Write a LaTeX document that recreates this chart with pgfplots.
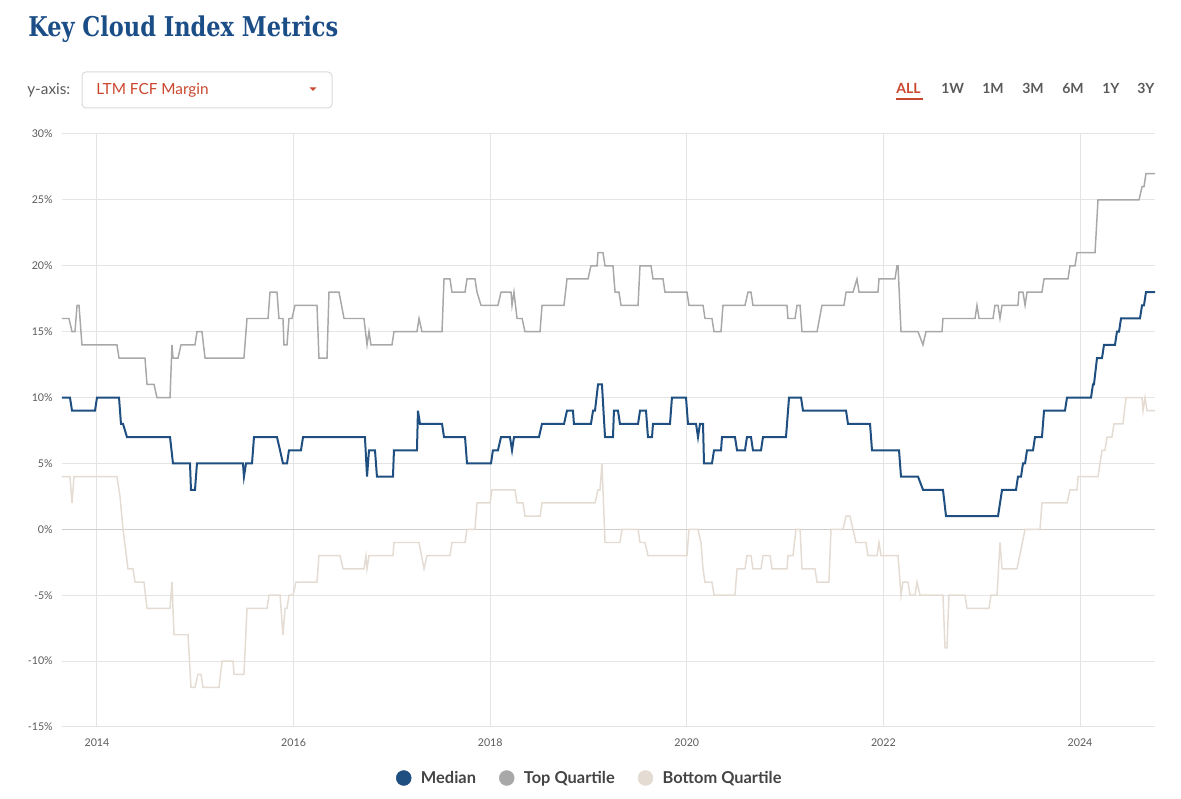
\documentclass[border=0pt]{standalone}
\usepackage{fontspec}
\setmainfont{Lato}
\newfontfamily\titlefont{DejaVu Serif}
\usepackage{graphicx}
\usepackage{pgfplots}
\pgfplotsset{compat=1.18}

\definecolor{median}{HTML}{1F4E80}
\definecolor{topq}{HTML}{A8A8A8}
\definecolor{botq}{HTML}{E4DBD2}
\definecolor{gridc}{HTML}{E4E4E4}
\definecolor{zeroc}{HTML}{D2CDC8}
\definecolor{ticktext}{HTML}{5A5A5A}
\definecolor{legtext}{HTML}{444444}
\definecolor{accent}{HTML}{C9472C}
\definecolor{titleblue}{HTML}{1B4D86}
\definecolor{boxc}{HTML}{DADADA}

\begin{document}
\begin{tikzpicture}[x=0.75pt,y=0.75pt]
\useasboundingbox (0,0) rectangle (1181,799);

% header
\node[anchor=base west, inner sep=0pt, text=titleblue]
  at (28,762) {\resizebox{232.5pt}{15.5pt}{\titlefont\bfseries Key Cloud Index Metrics}};
\node[anchor=base west, inner sep=0pt, text=ticktext, font=\fontsize{11.5}{13}\selectfont]
  at (27,704) {y-axis:};
\draw[boxc, line width=0.75pt, rounded corners=3pt] (82,727) rectangle (332,691);
\node[anchor=base west, inner sep=0pt, text=accent, font=\fontsize{11.5}{13}\selectfont]
  at (96,704) {LTM FCF Margin};
\fill[accent] (309.5,711.5) -- (316.5,711.5) -- (313,708) -- cycle;

% range buttons
\begin{scope}[every node/.style={anchor=base west, inner sep=0pt, font=\bfseries\fontsize{10.5}{12}\selectfont, text=ticktext}]
\node[text=accent] at (896,705) {ALL};
\node at (941,705) {1W};
\node at (982,705) {1M};
\node at (1022,705) {3M};
\node at (1062,705) {6M};
\node at (1102,705) {1Y};
\node at (1137,705) {3Y};
\end{scope}
\draw[accent, line width=1.5pt] (896,700) -- (923,700);

\begin{axis}[
  at={(46.5pt,54pt)}, anchor=south west,
  width=819.75pt, height=444.75pt, scale only axis,
  xmin=2013.644, xmax=2024.763, ymin=-15, ymax=30,
  xtick={2014,2016,2018,2020,2022,2024},
  xticklabels={2014,2016,2018,2020,2022,2024},
  ytick={-15,-10,-5,0,5,10,15,20,25,30},
  yticklabels={-15\%,-10\%,-5\%,0\%,5\%,10\%,15\%,20\%,25\%,30\%},
  extra y ticks={0}, extra y tick labels={},
  extra y tick style={grid style={zeroc, line width=0.75pt}},
  xmajorgrids, ymajorgrids,
  grid style={gridc, line width=0.75pt},
  axis line style={draw=none},
  major tick length=0pt,
  tick label style={font=\fontsize{8}{9}\selectfont, text=ticktext, inner sep=0pt},
  yticklabel style={xshift=-6.75pt},
  xticklabel style={yshift=-8.5pt},
  legend columns=-1,
  legend image code/.code={\fill[#1] (0pt,0pt) circle (5.6pt);},
  legend style={draw=none, fill=none, inner sep=0pt, outer sep=0pt,
    column sep=0pt, nodes={inner sep=0pt},
    font=\bfseries\fontsize{12.3}{14}\selectfont, text=legtext,
    /tikz/every odd column/.append style={column sep=7.1pt},
    /tikz/every even column/.append style={column sep=17.25pt},
    at={(rel axis cs:0.3056,-0.086)}, anchor=west},
]
\addlegendimage{median}
\addlegendimage{topq}
\addlegendimage{botq}
\addplot[botq, line width=1.1pt, forget plot] coordinates {
(2013.644,4) (2013.725,4) (2013.746,2) (2013.766,4) (2014.203,4) (2014.234,2.5) (2014.265,0) (2014.315,-3) (2014.366,-3) (2014.387,-4) (2014.478,-4) (2014.509,-6) (2014.743,-6) (2014.763,-4) (2014.783,-8) (2014.926,-8) (2014.956,-12) (2014.997,-12) (2015.027,-11) (2015.058,-11) (2015.078,-12) (2015.241,-12) (2015.272,-10) (2015.384,-10) (2015.394,-11) (2015.495,-11) (2015.526,-6) (2015.729,-6) (2015.750,-5) (2015.862,-5) (2015.892,-8) (2015.913,-6) (2015.933,-6) (2015.953,-5) (2015.994,-5) (2016.024,-4) (2016.238,-4) (2016.258,-2) (2016.472,-2) (2016.503,-3) (2016.716,-3) (2016.736,-2) (2016.747,-3) (2016.767,-2) (2017.011,-2) (2017.021,-1) (2017.276,-1) (2017.327,-3) (2017.357,-2) (2017.591,-2) (2017.611,-1) (2017.744,-1) (2017.764,0) (2017.845,0) (2017.866,2) (2017.998,2) (2018.018,3) (2018.252,3) (2018.273,2) (2018.334,2) (2018.354,1) (2018.507,1) (2018.527,2) (2019.066,2) (2019.097,3) (2019.117,3) (2019.137,5) (2019.168,-1) (2019.320,-1) (2019.341,0) (2019.504,0) (2019.524,-1) (2019.575,-1) (2019.605,-2) (2020.002,-2) (2020.022,0) (2020.114,0) (2020.144,-1) (2020.165,-3) (2020.185,-4) (2020.256,-4) (2020.277,-5) (2020.490,-5) (2020.511,-3) (2020.592,-3) (2020.612,-2) (2020.653,-2) (2020.673,-3) (2020.755,-3) (2020.775,-2) (2020.846,-2) (2020.867,-3) (2021.019,-3) (2021.029,-2) (2021.080,-2) (2021.111,0) (2021.152,0) (2021.172,-3) (2021.304,-3) (2021.325,-4) (2021.446,-4) (2021.467,0) (2021.589,0) (2021.620,1) (2021.660,1) (2021.721,-1) (2021.823,-1) (2021.843,-2) (2021.935,-2) (2021.955,-1) (2021.976,-2) (2022.149,-2) (2022.179,-5) (2022.199,-4) (2022.250,-4) (2022.271,-5) (2022.321,-5) (2022.342,-4) (2022.372,-5) (2022.606,-5) (2022.627,-9) (2022.647,-9) (2022.667,-5) (2022.830,-5) (2022.851,-6) (2023.074,-6) (2023.095,-5) (2023.156,-5) (2023.186,-1) (2023.207,-3) (2023.359,-3) (2023.441,0) (2023.593,0) (2023.613,2) (2023.868,2) (2023.898,3) (2023.970,3) (2023.980,4) (2024.183,4) (2024.224,6) (2024.254,6) (2024.275,7) (2024.325,7) (2024.346,8) (2024.437,8) (2024.468,10) (2024.631,10) (2024.641,9) (2024.661,10) (2024.682,9) (2024.763,9)
};
\addplot[topq, line width=1.1pt, forget plot] coordinates {
(2013.644,16) (2013.715,16) (2013.746,15) (2013.776,15) (2013.797,17) (2013.817,17) (2013.847,14) (2014.203,14) (2014.224,13) (2014.488,13) (2014.509,11) (2014.580,11) (2014.610,10) (2014.743,10) (2014.763,14) (2014.773,13) (2014.824,13) (2014.855,14) (2014.997,14) (2015.017,15) (2015.068,15) (2015.099,13) (2015.495,13) (2015.526,16) (2015.740,16) (2015.760,18) (2015.831,18) (2015.851,16) (2015.892,16) (2015.902,14) (2015.933,14) (2015.953,16) (2015.984,16) (2016.014,17) (2016.238,17) (2016.258,13) (2016.340,13) (2016.360,18) (2016.462,18) (2016.513,16) (2016.716,16) (2016.747,14) (2016.767,15) (2016.787,14) (2017.001,14) (2017.021,15) (2017.255,15) (2017.276,16) (2017.306,15) (2017.510,15) (2017.530,19) (2017.591,19) (2017.611,18) (2017.744,18) (2017.764,19) (2017.845,19) (2017.866,18) (2017.906,17) (2018.079,17) (2018.110,18) (2018.212,18) (2018.222,17) (2018.242,18) (2018.273,16) (2018.324,16) (2018.354,15) (2018.507,15) (2018.527,17) (2018.751,17) (2018.781,19) (2018.995,19) (2019.025,20) (2019.087,20) (2019.097,21) (2019.147,21) (2019.168,20) (2019.249,20) (2019.270,18) (2019.310,18) (2019.331,17) (2019.504,17) (2019.524,20) (2019.636,20) (2019.656,19) (2019.758,19) (2019.778,18) (2020.002,18) (2020.022,17) (2020.165,17) (2020.185,16) (2020.256,16) (2020.277,15) (2020.348,15) (2020.368,17) (2020.592,17) (2020.623,18) (2020.653,18) (2020.673,17) (2021.019,17) (2021.029,16) (2021.101,16) (2021.121,17) (2021.152,17) (2021.172,15) (2021.325,15) (2021.375,17) (2021.599,17) (2021.620,18) (2021.691,18) (2021.731,19) (2021.752,18) (2021.945,18) (2021.955,19) (2022.118,19) (2022.138,20) (2022.149,20) (2022.179,15) (2022.352,15) (2022.403,14) (2022.433,15) (2022.596,15) (2022.606,16) (2022.932,16) (2022.952,17) (2022.973,16) (2023.115,16) (2023.135,17) (2023.166,17) (2023.186,16) (2023.207,17) (2023.369,17) (2023.379,18) (2023.420,18) (2023.441,17) (2023.461,18) (2023.613,18) (2023.634,19) (2023.878,19) (2023.898,20) (2023.949,20) (2023.970,21) (2024.153,21) (2024.183,25) (2024.600,25) (2024.631,26) (2024.651,26) (2024.671,27) (2024.763,27)
};
\addplot[median, line width=1.5pt, forget plot] coordinates {
(2013.644,10) (2013.725,10) (2013.746,9) (2013.980,9) (2014.000,10) (2014.224,10) (2014.244,8) (2014.265,8) (2014.305,7) (2014.743,7) (2014.773,5) (2014.946,5) (2014.956,3) (2014.997,3) (2015.017,5) (2015.485,5) (2015.495,4) (2015.516,5) (2015.577,5) (2015.597,7) (2015.831,7) (2015.862,6) (2015.892,5) (2015.933,5) (2015.953,6) (2016.075,6) (2016.096,7) (2016.726,7) (2016.747,4) (2016.767,6) (2016.828,6) (2016.848,4) (2017.011,4) (2017.021,6) (2017.255,6) (2017.265,9) (2017.286,8) (2017.510,8) (2017.530,7) (2017.744,7) (2017.764,5) (2018.008,5) (2018.028,6) (2018.079,6) (2018.110,7) (2018.201,7) (2018.222,6) (2018.242,7) (2018.496,7) (2018.527,8) (2018.751,8) (2018.781,9) (2018.842,9) (2018.852,8) (2019.025,8) (2019.046,9) (2019.066,9) (2019.097,11) (2019.137,11) (2019.168,7) (2019.249,7) (2019.259,9) (2019.300,9) (2019.320,8) (2019.504,8) (2019.524,9) (2019.585,9) (2019.605,7) (2019.646,7) (2019.656,8) (2019.829,8) (2019.849,10) (2019.992,10) (2020.012,8) (2020.094,8) (2020.114,7) (2020.134,8) (2020.165,8) (2020.175,5) (2020.256,5) (2020.277,6) (2020.348,6) (2020.358,7) (2020.490,7) (2020.511,6) (2020.592,6) (2020.612,7) (2020.653,7) (2020.673,6) (2020.755,6) (2020.775,7) (2021.009,7) (2021.040,10) (2021.162,10) (2021.182,9) (2021.620,9) (2021.640,8) (2021.864,8) (2021.884,6) (2022.159,6) (2022.179,4) (2022.352,4) (2022.403,3) (2022.606,3) (2022.637,1) (2023.166,1) (2023.207,3) (2023.349,3) (2023.369,4) (2023.400,4) (2023.420,5) (2023.441,5) (2023.461,6) (2023.522,6) (2023.542,7) (2023.613,7) (2023.634,9) (2023.847,9) (2023.868,10) (2024.112,10) (2024.132,11) (2024.142,11) (2024.173,13) (2024.224,13) (2024.244,14) (2024.356,14) (2024.376,15) (2024.397,15) (2024.417,16) (2024.610,16) (2024.631,17) (2024.651,17) (2024.671,18) (2024.763,18)
};
\legend{Median,Top Quartile,Bottom Quartile}
\end{axis}
\end{tikzpicture}
\end{document}
